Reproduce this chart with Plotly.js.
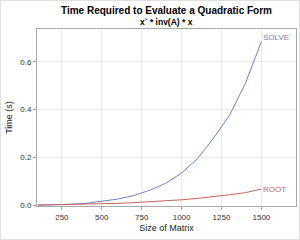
<!DOCTYPE html>
<html>
<head>
<meta charset="utf-8">
<script src="https://cdn.plot.ly/plotly-3.0.1.min.js"></script>
<style>
html,body{margin:0;padding:0;background:#fff;}
#chart{width:298px;height:238px;border:1px solid #e0e0e0;}
</style>
</head>
<body>
<div id="chart"></div>
<script>
const sizes = [100, 200, 300, 400, 500, 600, 700, 800, 900, 1000, 1100, 1200, 1300, 1400, 1500];
const solveTimes = [0.000, 0.001, 0.003, 0.007, 0.016, 0.025, 0.040, 0.062, 0.091, 0.134, 0.195, 0.280, 0.375, 0.510, 0.684];
const rootTimes = [0.000, 0.001, 0.002, 0.003, 0.005, 0.007, 0.010, 0.013, 0.017, 0.022, 0.028, 0.034, 0.043, 0.052, 0.067];
const seriesNames = ["SOLVE", "ROOT"];
const xTicks = [250, 500, 750, 1000, 1250, 1500];
const yTicks = [0.0, 0.2, 0.4, 0.6];

const colors = ["#7282c2", "#c2655c"];
const font = "Liberation Sans, Arial, sans-serif";

const seriesData = [solveTimes, rootTimes];
const traces = seriesData.map((ys, i) => ({
  x: sizes, y: ys, mode: "lines", name: seriesNames[i],
  line: {color: colors[i], width: 1}, hoverinfo: "none"
}));

const annotations = seriesData.map((ys, i) => ({
  x: sizes[sizes.length - 1], y: ys[ys.length - 1], xref: "x", yref: "y",
  text: seriesNames[i], showarrow: false, xanchor: "left", yanchor: "middle",
  xshift: 0, yshift: i === 0 ? 4 : 0,
  font: {family: font, size: 8, color: colors[i]}
}));
annotations.push({
  xref: "paper", yref: "paper", x: 0.5, y: 1, yanchor: "bottom", yshift: 0,
  text: "x` * inv(A) * x", showarrow: false,
  font: {family: font, size: 8.5, color: "#000", weight: "bold"}
});

const layout = {
  width: 298, height: 238,
  margin: {l: 36, r: 3, t: 28, b: 33, pad: 0},
  paper_bgcolor: "#fff", plot_bgcolor: "#fff",
  showlegend: false,
  title: {text: "<b>Time Required to Evaluate a Quadratic Form</b>", x: 0.5, xref: "paper", xanchor: "center",
          y: 0.958, yref: "container", yanchor: "middle",
          font: {family: font, size: 10, color: "#000"}},
  xaxis: {
    range: [94, 1717], tickvals: xTicks, ticktext: xTicks.map(String),
    showgrid: true, gridcolor: "#ebebeb", gridwidth: 1, zeroline: false,
    showline: true, linecolor: "#a8a8a8", linewidth: 1, mirror: true,
    ticks: "outside", ticklen: 3, tickcolor: "#a8a8a8",
    tickfont: {family: font, size: 8, color: "#333"},
    title: {text: "Size of Matrix", font: {family: font, size: 9, color: "#222"}, standoff: 4}
  },
  yaxis: {
    range: [-0.004, 0.737], tickvals: yTicks, ticktext: yTicks.map(v => v.toFixed(1)),
    showgrid: true, gridcolor: "#ebebeb", gridwidth: 1, zeroline: false,
    showline: true, linecolor: "#a8a8a8", linewidth: 1, mirror: true,
    ticks: "outside", ticklen: 3, tickcolor: "#a8a8a8",
    tickfont: {family: font, size: 8, color: "#333"},
    title: {text: "Time (s)", font: {family: font, size: 9, color: "#222"}, standoff: 6}
  },
  annotations: annotations
};

Plotly.newPlot("chart", traces, layout, {staticPlot: true, displayModeBar: false});
</script>
</body>
</html>
